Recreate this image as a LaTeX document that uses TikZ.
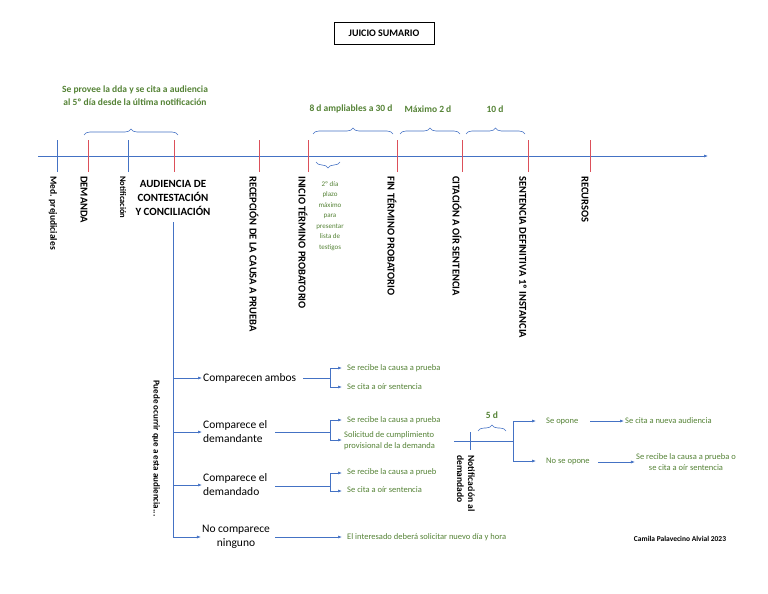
\documentclass[tikz,border=0pt]{standalone}
\usepackage{fontspec}
\setmainfont{Carlito}
\usetikzlibrary{decorations.pathreplacing,arrows.meta}
\definecolor{gr}{RGB}{84,130,53}
\definecolor{bl}{RGB}{68,114,196}
\definecolor{rd}{RGB}{220,80,90}
\begin{document}
\begin{tikzpicture}[x=1pt,y=-1pt,
 lab/.style={rotate=-90,anchor=west,font=\bfseries\fontsize{10.5}{12}\selectfont,inner sep=0},
 gtx/.style={text=gr,font=\fontsize{8.5}{11}\selectfont,inner sep=1pt},
 gbt/.style={text=gr,font=\bfseries\fontsize{9.5}{13}\selectfont,inner sep=1pt},
 btx/.style={font=\fontsize{11.5}{14}\selectfont,inner sep=1pt},
 ln/.style={bl,line width=0.6pt},
 ar/.style={ln,-{Latex[length=4pt,width=3pt]}},
 br/.style={bl,line width=0.6pt,decorate,decoration={brace,amplitude=6pt}},
 rt/.style={rd,line width=0.6pt},bt/.style={bl,line width=0.6pt}]
\useasboundingbox (0,0) rectangle (768,594);
\node[draw,font=\bfseries\fontsize{10}{12}\selectfont,minimum width=100pt,minimum height=22pt] (title) at (384,33) {JUICIO SUMARIO};
\coordinate (t0) at (38,156); \coordinate (t1) at (708,156);
\draw[ar] (t0) -- (t1);
\foreach \x/\c in {57/bt,88/rt,128/bt,174/rt,259/rt,308/rt,397/rt,462/rt,528/rt,590/rt}
 \draw[\c] (\x,140) -- (\x,172);
\node[lab,font=\bfseries\fontsize{9.5}{11}\selectfont] (m) at (53,176) {Med. prejudiciales};
\node[lab] (d) at (84,176) {DEMANDA};
\node[lab,font=\bfseries\fontsize{8.5}{10}\selectfont] (n) at (123,176) {Notificación};
\node[align=center,font=\bfseries\fontsize{11}{14}\selectfont] (aud) at (173,198) {AUDIENCIA DE\\CONTESTACIÓN\\Y CONCILIACIÓN};
\node[lab] (r) at (254,176) {RECEPCIÓN DE LA CAUSA A PRUEBA};
\node[lab] (i) at (303,176) {INICIO TÉRMINO PROBATORIO};
\node[lab] (f) at (392,176) {FIN TÉRMINO PROBATORIO};
\node[lab] (c) at (457,176) {CITACIÓN A OÍR SENTENCIA};
\node[lab] (s) at (523,176) {SENTENCIA DEFINITIVA 1º INSTANCIA};
\node[lab] (rc) at (585,176) {RECURSOS};
% braces
\draw[br] (84,135) -- (178,135);
\node[gbt,align=center] (b1) at (135,96) {Se provee la dda y se cita a audiencia\\al 5º día desde la última notificación};
\draw[br] (313,134) -- (393,134);
\node[gbt] (b2) at (351,109) {8 d ampliables a 30 d};
\draw[br] (400,134) -- (460,134);
\node[gbt] (b3) at (428,109) {Máximo 2 d};
\draw[br] (466,134) -- (525,134);
\node[gbt] (b4) at (495,109) {10 d};
\draw[br] (340,162) -- (316,162);
\node[gtx,align=center,font=\fontsize{7}{10.5}\selectfont] (b5) at (330,216) {2º día\\plazo\\máximo\\para\\presentar\\lista de\\testigos};
% main vertical
\coordinate (v0) at (173,222); \coordinate (v1) at (173,538);
\draw[ln] (v0) -- (v1);
\node[lab,font=\bfseries\fontsize{9}{11}\selectfont] (pq) at (156,380) {Puede ocurrir que a esta audiencia...};
\node[btx,anchor=west] (ca) at (202,378) {Comparecen ambos};
\node[btx,anchor=west,align=left] (cd) at (202,432) {Comparece el\\demandante};
\node[btx,anchor=west,align=left] (cdo) at (202,485) {Comparece el\\demandado};
\node[btx,align=center] (nc) at (236,537) {No comparece\\ninguno};
\foreach \y/\n in {378/ca,432/cd,485/cdo,537/nc}
 \draw[ar] (173,\y) -- (\n.west |- 0,\y);
\foreach \y/\ya/\yb in {378/368/387,432/420/440,486/473/491}{
 \draw[ln] (330,\ya) -- (330,\yb);
 \draw[ar] (330,\ya) -- (342,\ya);
 \draw[ar] (330,\yb) -- (342,\yb);
}
\draw[ln] (303,378) -- (330,378);
\draw[ln] (275,432) -- (330,432);
\draw[ln] (275,486) -- (330,486);
\node[gtx,anchor=west] (a1) at (346,368) {Se recibe la causa a prueba};
\node[gtx,anchor=west] (a2) at (346,387) {Se cita a oír sentencia};
\node[gtx,anchor=west] (d1) at (346,420) {Se recibe la causa a prueba};
\node[gtx,anchor=west,align=left] (d2) at (343,441) {Solicitud de cumplimiento\\provisional de la demanda};
\node[gtx,anchor=west] (e1) at (346,472) {Se recibe la causa a prueb};
\node[gtx,anchor=west] (e2) at (346,490) {Se cita a oír sentencia};
\draw[ar] (275,537) -- (342,537);
\node[gtx,anchor=west] (g1) at (346,537) {El interesado deberá solicitar nuevo día y hora};
% notification branch
\coordinate (k) at (513,441);
\coordinate (k0) at (454,441);
\draw[ln] (k0) -- (k);
\draw[ln] (470,432) -- (470,450);
\node[lab,align=left,font=\bfseries\fontsize{9.5}{11}\selectfont] (nd) at (466,455) {Notificación al\\demandado};
\draw[br] (478,431) -- (506,431);
\node[gbt] (b6) at (492,415) {5 d};
\draw[ln] (513,421) -- (513,461);
\draw[ar] (513,421) -- (536,421);
\draw[ar] (513,461) -- (536,461);
\node[gtx,anchor=west] (o1) at (545,421) {Se opone};
\node[gtx,anchor=west] (o2) at (545,461) {No se opone};
\node[gtx,anchor=west] (o3) at (624,421) {Se cita a nueva audiencia};
\node[gtx,align=center] (o4) at (686,462) {Se recibe la causa a prueba o\\se cita a oír sentencia};
\coordinate (p1) at (590,421); \coordinate (p2) at (598,462);
\draw[ar] (p1) -- (o3.west);
\draw[ar] (p2) -- (o4.west);
\node[font=\bfseries\fontsize{7.5}{9}\selectfont] (cr) at (680,539) {Camila Palavecino Alvial 2023};
\end{tikzpicture}
\end{document}
